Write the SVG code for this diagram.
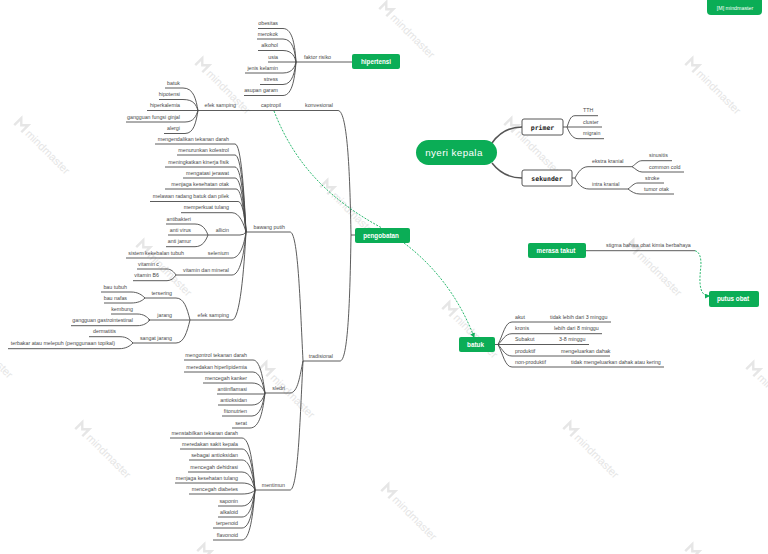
<svg xmlns="http://www.w3.org/2000/svg" xmlns:xlink="http://www.w3.org/1999/xlink" width="768" height="554" viewBox="0 0 768 554">
<style>
text{font-family:"Liberation Sans",Arial,sans-serif;font-size:5.3px;fill:#4a4a4a}
.e{text-anchor:end}
.s{text-anchor:start}
.g{fill:#0bad56}
.n{font-size:6.3px;font-weight:bold;fill:#fff;text-anchor:middle}
.w{font-size:11px;fill:#e6e6e6}
.wl{fill:none;stroke:#e6e6e6;stroke-width:2.4}
.l{fill:none;stroke:#4a4a4a;stroke-width:.9}
.t{fill:none;stroke:#555;stroke-width:1.5}
.d{fill:none;stroke:#12b05e;stroke-width:.9;stroke-dasharray:2 1.4}
.b{fill:#fff;stroke:#444;stroke-width:.9}
.m{font-family:"DejaVu Sans Mono",monospace;font-size:6.5px;font-weight:bold;fill:#222;text-anchor:middle}
</style>
<defs>
<g id="wm"><path class="wl" d="M1 12V2L6 7 11 2V12"/><text class="w" x="15" y="11">mindmaster</text></g>
<marker id="ah" markerWidth="5" markerHeight="5" refX="4" refY="2.5" orient="auto" markerUnits="userSpaceOnUse"><path d="M0 0L5 2.5 0 5Z" fill="#12b05e"/></marker>
</defs>
<rect width="768" height="554" fill="#fff"/>
<g id="watermarks">
<use xlink:href="#wm" href="#wm" transform="translate(387 0) rotate(45)"/>
<use xlink:href="#wm" href="#wm" transform="translate(203 56) rotate(45)"/>
<use xlink:href="#wm" href="#wm" transform="translate(693 56) rotate(45)"/>
<use xlink:href="#wm" href="#wm" transform="translate(22 116) rotate(45)"/>
<use xlink:href="#wm" href="#wm" transform="translate(512 116) rotate(45)"/>
<use xlink:href="#wm" href="#wm" transform="translate(328 178) rotate(45)"/>
<use xlink:href="#wm" href="#wm" transform="translate(144 238) rotate(45)"/>
<use xlink:href="#wm" href="#wm" transform="translate(634 238) rotate(45)"/>
<use xlink:href="#wm" href="#wm" transform="translate(450 300) rotate(45)"/>
<use xlink:href="#wm" href="#wm" transform="translate(-35 320) rotate(45)"/>
<use xlink:href="#wm" href="#wm" transform="translate(267 360) rotate(45)"/>
<use xlink:href="#wm" href="#wm" transform="translate(754 360) rotate(45)"/>
<use xlink:href="#wm" href="#wm" transform="translate(83 420) rotate(45)"/>
<use xlink:href="#wm" href="#wm" transform="translate(571 420) rotate(45)"/>
<use xlink:href="#wm" href="#wm" transform="translate(389 482) rotate(45)"/>
<use xlink:href="#wm" href="#wm" transform="translate(205 542) rotate(45)"/>
<use xlink:href="#wm" href="#wm" transform="translate(693 542) rotate(45)"/>
</g>
<g id="connectors">
<path class="l" d="M296 62H352"/>
<path class="l" d="M258 28.500H283C293 28.500 295 47 296 62"/>
<path class="l" d="M257 39H283C293 39 295 52 296 62"/>
<path class="l" d="M258 50.500H283C293 50.500 295 58 296 62"/>
<path class="l" d="M268 62H296"/>
<path class="l" d="M245 73H283C293 73 295 66 296 62"/>
<path class="l" d="M260 84.500H283C293 84.500 295 70 296 62"/>
<path class="l" d="M244 95.500H283C293 95.500 295 75 296 62"/>
<path class="l" d="M147 110.500H338C348 110.500 350 180 351 235H355"/>
<path class="l" d="M165 88H183C194 88 196 100 198 110.500"/>
<path class="l" d="M159 99.500H183C194 99.500 196 105 198 110.500"/>
<path class="l" d="M126 122H185C194 122 196 116 198 110.500"/>
<path class="l" d="M164 133.500H185C194 133.500 196 122 198 110.500"/>
<path class="l" d="M303 361H340C348 361 350 300 351 235"/>
<path class="l" d="M246 232H290C298 232 300 300 303 361"/>
<path class="l" d="M265 393H290C298 393 300 375 303 361"/>
<path class="l" d="M255 490H290C298 490 300 420 303 361"/>
<path class="l" d="M155 144H235C241 144 244 190 246 232"/>
<path class="l" d="M177 155H235C241 155 244 195 246 232"/>
<path class="l" d="M165 167H235C241 167 244 200 246 232"/>
<path class="l" d="M183 178H235C241 178 244 205 246 232"/>
<path class="l" d="M165 189H236C242 189 244 215 246 232"/>
<path class="l" d="M150 201.500H238C243 201.500 245 220 246 232"/>
<path class="l" d="M181 212.700H232C240 212.700 244 225 246 232"/>
<path class="l" d="M168 235H240Q244 235 246 232"/>
<path class="l" d="M126 258H232C240 258 244 245 246 232"/>
<path class="l" d="M183 275H232C240 275 244 255 246 232"/>
<path class="l" d="M148 320H232C240 320 244 270 246 232"/>
<path class="l" d="M166 224H195C203 224 206 230 208 235"/>
<path class="l" d="M166 246.700H195C203 246.700 206 240 208 235"/>
<path class="l" d="M137 269H167C171 269 174 272 176 275H183"/>
<path class="l" d="M133 280.700H167C171 280.700 174 278 176 275"/>
<path class="l" d="M148 298H176C184 298 187 308 190 320"/>
<path class="l" d="M138 343H176C184 343 187 332 190 320"/>
<path class="l" d="M101 292H131C138 292 142 295 145 298H148"/>
<path class="l" d="M104 303H131C138 303 142 301 145 298"/>
<path class="l" d="M111 314H137C144 314 147 317 150 320"/>
<path class="l" d="M71 325.700H137C144 325.700 147 323 150 320"/>
<path class="l" d="M89 336.700H120C127 336.700 130 340 133 343H138"/>
<path class="l" d="M8 348.700H119C126 348.700 130 346 133 343"/>
<path class="l" d="M184 360H253C260 360 263 378 265 393"/>
<path class="l" d="M184 372H253C260 372 263 384 265 393"/>
<path class="l" d="M203 383H252C260 383 263 388 265 393"/>
<path class="l" d="M217 394H265"/>
<path class="l" d="M218 405H252C260 405 263 399 265 393"/>
<path class="l" d="M222 416H252C260 416 263 404 265 393"/>
<path class="l" d="M232 428H250C260 428 263 410 265 393"/>
<path class="l" d="M170 438H242C250 438 253 465 255 490"/>
<path class="l" d="M180 449H242C250 449 253 470 255 490"/>
<path class="l" d="M189 460H242C250 460 253 476 255 490"/>
<path class="l" d="M188 472H242C250 472 253 482 255 490"/>
<path class="l" d="M175 483H242C250 483 253 486 255 490"/>
<path class="l" d="M189 494H242C250 494 253 492 255 490"/>
<path class="l" d="M218 506H242C250 506 253 498 255 490"/>
<path class="l" d="M218 517H242C250 517 253 503 255 490"/>
<path class="l" d="M213 528H242C250 528 253 509 255 490"/>
<path class="l" d="M213 540H242C250 540 253 515 255 490"/>
<path class="t" d="M492 143C499 133 509 127 522 127"/>
<path class="t" d="M492 163C499 172 509 178 522 178"/>
<path class="l" d="M563 127H567"/>
<path class="l" d="M598 115.700H575C570 115.700 569 122 567 127"/>
<path class="l" d="M567 127H602"/>
<path class="l" d="M604 138.700H578C572 138.700 569 132 567 127"/>
<path class="l" d="M632 166.700H588C582 166.700 578 172 575 178H572"/>
<path class="l" d="M628 189H589C582 189 578 184 575 178"/>
<path class="l" d="M672 160.700H642C638 160.700 636 164 632 166.700"/>
<path class="l" d="M684 172H642C638 172 636 169 632 166.700"/>
<path class="l" d="M664 183H638C634 183 632 186 628 189"/>
<path class="l" d="M674 194H640C635 194 632 192 628 189"/>
<path class="l" d="M611 322H512C505 322 503 335 498 344.500H495"/>
<path class="l" d="M602 333.700H512C505 333.700 503 340 498 344.500"/>
<path class="l" d="M498 344.500H589"/>
<path class="l" d="M610 356H512C505 356 503 350 498 344.500"/>
<path class="l" d="M664 367H512C505 367 503 354 498 344.500"/>
<path class="l" d="M586 250.700H695"/>
<path class="d" d="M274 111C295 165 330 200 382 228"/>
<path class="d" marker-end="url(#ah)" d="M404 243C440 270 462 305 474 337"/>
<path class="d" marker-end="url(#ah)" d="M695 250.700C700 252 701 258 701 265 700 275 697 296 709 296"/>
</g>
<g id="root"><rect class="g" x="416" y="140" width="81" height="25" rx="12.500"/><text x="454" y="156" style="font-size:9.800px;fill:#fff;text-anchor:middle;letter-spacing:.4px">nyeri kepala</text></g>
<g id="n-primer"><rect class="b" x="522" y="119" width="41" height="16" rx="2"/><text class="m" x="542.500" y="129.500">primer</text></g>
<g id="n-sekunder"><rect class="b" x="522" y="170" width="50" height="16" rx="2"/><text class="m" x="547" y="180.500">sekunder</text></g>
<g id="n-hipertensi"><rect class="g" x="352" y="54" width="48" height="15" rx="2"/><text class="n" x="376" y="63.800">hipertensi</text></g>
<g id="n-pengobatan"><rect class="g" x="355" y="228" width="55" height="15" rx="2"/><text class="n" x="381" y="238">pengobatan</text></g>
<g id="n-batuk"><rect class="g" x="459" y="337" width="36" height="15" rx="2"/><text class="n" x="475.500" y="346.800">batuk</text></g>
<g id="n-takut"><rect class="g" x="528" y="243" width="58" height="15" rx="2"/><text class="n" x="556" y="252.800">merasa takut</text></g>
<g id="n-putus"><rect class="g" x="709" y="291" width="50" height="16" rx="2"/><text class="n" x="733" y="301.300">putus obat</text></g>
<g id="n-badge"><rect class="g" x="707" y="-5" width="55" height="20" rx="4"/><text x="735" y="10" style="fill:#fff;text-anchor:middle">[M] mindmaster</text></g>
<g id="labels-hipertensi">
<text class="e" x="331" y="58.500">faktor risiko</text>
<text class="e" x="278" y="25">obesitas</text>
<text class="e" x="278" y="35.500">merokok</text>
<text class="e" x="278" y="47">alkohol</text>
<text class="e" x="278" y="58.500">usia</text>
<text class="e" x="278" y="69.500">jenis kelamin</text>
<text class="e" x="278" y="81">stress</text>
<text class="e" x="278" y="92">asupan garam</text>
</g>
<g id="labels-konvensional">
<text class="e" x="333" y="107">konvesional</text>
<text class="e" x="281" y="107">captropil</text>
<text class="e" x="236" y="107">efek samping</text>
<text class="e" x="180" y="84.500">batuk</text>
<text class="e" x="180" y="96">hipotensi</text>
<text class="e" x="180" y="107">hiperkalemia</text>
<text class="e" x="180" y="118.500">gangguan fungsi ginjal</text>
<text class="e" x="180" y="130">alergi</text>
</g>
<g id="labels-bawang">
<text class="e" x="285" y="228.500">bawang putih</text>
<text class="e" x="229" y="140.500">mengendalikan tekanan darah</text>
<text class="e" x="229" y="151.500">menurunkan kolestrol</text>
<text class="e" x="229" y="163.500">meningkatkan kinerja fisik</text>
<text class="e" x="229" y="174.500">mengatasi jerawat</text>
<text class="e" x="229" y="185.500">menjaga kesehatan otak</text>
<text class="e" x="229" y="198">melawan radang batuk dan pilek</text>
<text class="e" x="229" y="209">memperkuat tulang</text>
<text class="e" x="229" y="231.500">allicin</text>
<text class="e" x="191" y="220.500">antibakteri</text>
<text class="e" x="191" y="231.500">anti virus</text>
<text class="e" x="191" y="243">anti jamur</text>
<text class="e" x="229" y="254.500">selenium</text>
<text class="e" x="184" y="254.500">sistem kekebalan tubuh</text>
<text class="e" x="229" y="271.500">vitamin dan mineral</text>
<text class="e" x="159" y="265.500">vitamin c</text>
<text class="e" x="159" y="277">vitamin B6</text>
<text class="e" x="229" y="316.500">efek samping</text>
<text class="e" x="172" y="294.500">tersering</text>
<text class="e" x="172" y="316.500">jarang</text>
<text class="e" x="172" y="339.500">sangat jarang</text>
<text class="e" x="127" y="288.500">bau tubuh</text>
<text class="e" x="127" y="299.500">bau nafas</text>
<text class="e" x="133" y="310.500">kembung</text>
<text class="e" x="133" y="322">gangguan gastrointestinal</text>
<text class="e" x="116" y="333">dermatitis</text>
<text class="e" x="115" y="345">terbakar atau melepuh (penggunaan topikal)</text>
</g>
<g id="labels-tradisional">
<text class="e" x="333" y="357.500">tradisional</text>
<text class="e" x="285" y="389.500">sledri</text>
<text class="e" x="247" y="356.500">mengontrol tekanan darah</text>
<text class="e" x="247" y="368.500">meredakan hiperlipidemia</text>
<text class="e" x="247" y="379.500">mencegah kanker</text>
<text class="e" x="247" y="390.500">antiinflamasi</text>
<text class="e" x="247" y="401.500">antioksidan</text>
<text class="e" x="247" y="412.500">fitonutrien</text>
<text class="e" x="247" y="424.500">serat</text>
<text class="e" x="285" y="486.500">mentimun</text>
<text class="e" x="238" y="434.500">menstabilkan tekanan darah</text>
<text class="e" x="238" y="445.500">meredakan sakit kepala</text>
<text class="e" x="238" y="456.500">sebagai antioksidan</text>
<text class="e" x="238" y="468.500">mencegah dehidrasi</text>
<text class="e" x="238" y="479.500">menjaga kesehatan tulang</text>
<text class="e" x="238" y="490.500">mencegah diabetes</text>
<text class="e" x="238" y="502.500">saponin</text>
<text class="e" x="238" y="513.500">alkaloid</text>
<text class="e" x="238" y="524.500">terpenoid</text>
<text class="e" x="238" y="536.500">flavonoid</text>
</g>
<g id="labels-kepala">
<text x="583" y="112.200">TTH</text>
<text x="583" y="123.500">cluster</text>
<text x="583" y="135.200">migrain</text>
<text x="592" y="163.200">ekstra kranial</text>
<text x="592" y="185.500">intra kranial</text>
<text x="649" y="157.200">sinusitis</text>
<text x="649" y="168.500">common cold</text>
<text x="645" y="179.500">stroke</text>
<text x="644" y="190.500">tumor otak</text>
</g>
<g id="labels-batuk">
<text x="515" y="318.500">akut</text>
<text x="515" y="330.200">kronis</text>
<text x="515" y="341.200">Subakut</text>
<text x="515" y="352.500">produktif</text>
<text x="515" y="363.500">non-produktif</text>
<text x="550" y="318.500">tidak lebih dari 3 minggu</text>
<text x="554" y="330.200">lebih dari 8 minggu</text>
<text x="559" y="341.200">3-8 minggu</text>
<text x="561" y="352.500">mengeluarkan dahak</text>
<text x="571" y="363.500">tidak mengeluarkan dahak atau kering</text>
<text x="606" y="247">stigma bahwa obat kimia berbahaya</text>
</g>
</svg>
